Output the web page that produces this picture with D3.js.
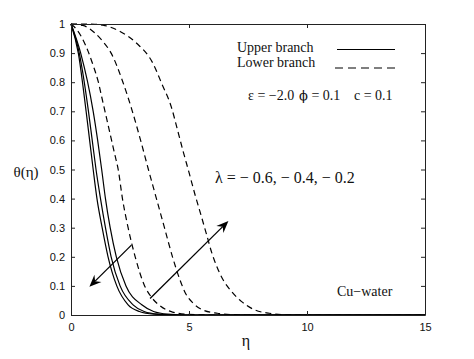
<!DOCTYPE html>
<html>
<head>
<meta charset="utf-8">
<script src="https://cdn.jsdelivr.net/npm/d3@7"></script>
<style>
  html, body { margin: 0; padding: 0; background: #fff; }
  svg { display: block; }
  .tick text { font-family: "Liberation Sans", Arial, sans-serif; font-size: 11px; fill: #111; }
  .serif { font-family: "Liberation Serif", "Times New Roman", serif; fill: #111; }
</style>
</head>
<body>
<svg id="chart" width="474" height="359"></svg>
<script>
// ---------- data ----------
const xTicks = [0, 5, 10, 15];
const yTicks = [0, 0.1, 0.2, 0.3, 0.4, 0.5, 0.6, 0.7, 0.8, 0.9, 1];
const yTickLabels = ["0", "0.1", "0.2", "0.3", "0.4", "0.5", "0.6", "0.7", "0.8", "0.9", "1"];

// Upper branch (solid), lambda = -0.6, -0.4, -0.2
const upper1 = [[0,1],[0.31,0.9],[0.64,0.7],[0.79,0.6],[0.94,0.5],[1.1,0.4],[1.32,0.3],[1.57,0.2],[1.94,0.1],[2.42,0.035],[2.9,0.012],[3.5,0.003],[4.5,0],[15,0]];
const upper2 = [[0,1],[0.35,0.9],[0.74,0.7],[0.9,0.6],[1.06,0.5],[1.25,0.4],[1.46,0.3],[1.7,0.2],[2.08,0.1],[2.63,0.035],[3.1,0.012],[3.7,0.003],[4.7,0],[15,0]];
const upper3 = [[0,1],[0.41,0.9],[0.94,0.7],[1.13,0.6],[1.3,0.5],[1.46,0.4],[1.66,0.3],[1.92,0.2],[2.33,0.1],[3.0,0.035],[3.5,0.012],[4.1,0.003],[5,0],[15,0]];

// Lower branch (dashed)
const lower1 = [[0,1],[0.2,0.985],[0.45,0.955],[0.73,0.905],[0.95,0.855],[1.16,0.8],[1.3,0.75],[1.44,0.7],[1.58,0.65],[1.72,0.6],[1.86,0.55],[2.0,0.5],[2.18,0.4],[2.42,0.3],[2.72,0.2],[3.12,0.1],[3.42,0.06],[3.8,0.03],[4.3,0.01],[5.0,0.002],[6,0],[15,0]];
const lower2 = [[0,1],[0.5,0.995],[1.0,0.97],[1.35,0.94],[1.7,0.9],[2.2,0.8],[2.6,0.7],[2.95,0.6],[3.28,0.5],[3.62,0.4],[3.96,0.3],[4.3,0.2],[4.62,0.12],[4.85,0.075],[5.18,0.04],[5.6,0.017],[6.2,0.006],[7,0.001],[8,0],[15,0]];
const lower3 = [[0,1],[0.6,1.0],[1.0,0.999],[1.36,0.996],[2.08,0.974],[2.78,0.934],[3.49,0.862],[3.84,0.796],[4.27,0.71],[4.5,0.64],[4.76,0.56],[5.0,0.49],[5.25,0.415],[5.52,0.34],[5.75,0.275],[5.96,0.215],[6.17,0.168],[6.45,0.12],[6.81,0.08],[7.23,0.046],[7.8,0.017],[8.4,0.006],[9,0.001],[10,0],[15,0]];

const upperSeries = [upper1, upper2, upper3];
const lowerSeries = [lower1, lower2, lower3];

// Arrows: [start, tip] in data units
const arrowLeft = [[2.56, 0.24], [0.78, 0.097]];
const arrowRight = [[3.35, 0.057], [6.67, 0.323]];

// ---------- drawing ----------
const svg = d3.select("#chart");
const L = 71, R = 425, T = 24, B = 315;
const x = d3.scaleLinear().domain([0, 15]).range([L, R]);
const y = d3.scaleLinear().domain([0, 1]).range([B, T]);

const line = d3.line().x(d => x(d[0])).y(d => y(d[1])).curve(d3.curveMonotoneX);

const gCurves = svg.append("g");
upperSeries.forEach(s => {
  gCurves.append("path").attr("d", line(s)).attr("fill", "none")
    .attr("stroke", "#000").attr("stroke-width", 1.2);
});
lowerSeries.forEach(s => {
  gCurves.append("path").attr("d", line(s)).attr("fill", "none")
    .attr("stroke", "#000").attr("stroke-width", 1.2).attr("stroke-dasharray", "6,4");
});

// axes (MATLAB style box with inward ticks)
const axisColor = "#222";
const gx = svg.append("g").attr("transform", `translate(0,${B})`)
  .call(d3.axisBottom(x).tickValues(xTicks).tickFormat(d3.format("d")).tickSizeInner(-4).tickSizeOuter(0).tickPadding(8));
const gy = svg.append("g").attr("transform", `translate(${L},0)`)
  .call(d3.axisLeft(y).tickValues(yTicks).tickFormat((d, i) => yTickLabels[i]).tickSizeInner(-4).tickSizeOuter(0).tickPadding(6));
const gt = svg.append("g").attr("transform", `translate(0,${T})`)
  .call(d3.axisTop(x).tickValues(xTicks).tickFormat("").tickSizeInner(-4).tickSizeOuter(0));
const gr = svg.append("g").attr("transform", `translate(${R},0)`)
  .call(d3.axisRight(y).tickValues(yTicks).tickFormat("").tickSizeInner(-4).tickSizeOuter(0));
[gx, gy, gt, gr].forEach(g => {
  g.selectAll(".domain").attr("stroke", axisColor).attr("stroke-width", 1);
  g.selectAll(".tick line").attr("stroke", axisColor).attr("stroke-width", 1);
});

// axis labels
svg.append("text").attr("class", "serif").attr("x", 246).attr("y", 346)
  .attr("text-anchor", "middle").style("font-size", "16px").text("η");
svg.append("text").attr("class", "serif").attr("x", 26).attr("y", 177)
  .attr("text-anchor", "middle").style("font-size", "15px").text("θ(η)");

// legend
svg.append("text").attr("class", "serif").attr("x", 237).attr("y", 52)
  .style("font-size", "14px").text("Upper branch");
svg.append("text").attr("class", "serif").attr("x", 237).attr("y", 67)
  .style("font-size", "14px").text("Lower branch");
svg.append("line").attr("x1", 337).attr("x2", 395).attr("y1", 49.5).attr("y2", 49.5)
  .attr("stroke", "#000").attr("stroke-width", 1.2);
svg.append("line").attr("x1", 335).attr("x2", 397).attr("y1", 68).attr("y2", 68)
  .attr("stroke", "#000").attr("stroke-width", 1.2).attr("stroke-dasharray", "8,5");

// parameters
svg.append("text").attr("class", "serif").attr("x", 248).attr("y", 100)
  .style("font-size", "14px").text("ε = −2.0");
const phiText = svg.append("text").attr("class", "serif").attr("x", 299).attr("y", 100)
  .style("font-size", "14px");
phiText.append("tspan").style("font-family", "'DejaVu Serif', serif").style("font-size", "13px").text("ϕ");
phiText.append("tspan").text(" = 0.1");
svg.append("text").attr("class", "serif").attr("x", 354).attr("y", 100)
  .style("font-size", "14px").text("c = 0.1");

svg.append("text").attr("class", "serif").attr("x", 215).attr("y", 183)
  .style("font-size", "16px").text("λ = − 0.6, − 0.4, − 0.2");

svg.append("text").attr("class", "serif").attr("x", 337).attr("y", 296)
  .style("font-size", "14px").text("Cu−water");

// arrows
function drawArrow(a) {
  const x0 = x(a[0][0]), y0 = y(a[0][1]), x1 = x(a[1][0]), y1 = y(a[1][1]);
  const ang = Math.atan2(y1 - y0, x1 - x0);
  const len = 12, half = 5, back = 8;
  const ux = Math.cos(ang), uy = Math.sin(ang), px = -uy, py = ux;
  const bx = x1 - ux * len, by = y1 - uy * len;
  const nx = x1 - ux * back, ny = y1 - uy * back;
  svg.append("line").attr("x1", x0).attr("y1", y0).attr("x2", nx).attr("y2", ny)
    .attr("stroke", "#000").attr("stroke-width", 1.3);
  svg.append("path")
    .attr("d", `M${x1},${y1}L${bx + px * half},${by + py * half}L${nx},${ny}L${bx - px * half},${by - py * half}Z`)
    .attr("fill", "#000");
}
drawArrow(arrowLeft);
drawArrow(arrowRight);
</script>
</body>
</html>
